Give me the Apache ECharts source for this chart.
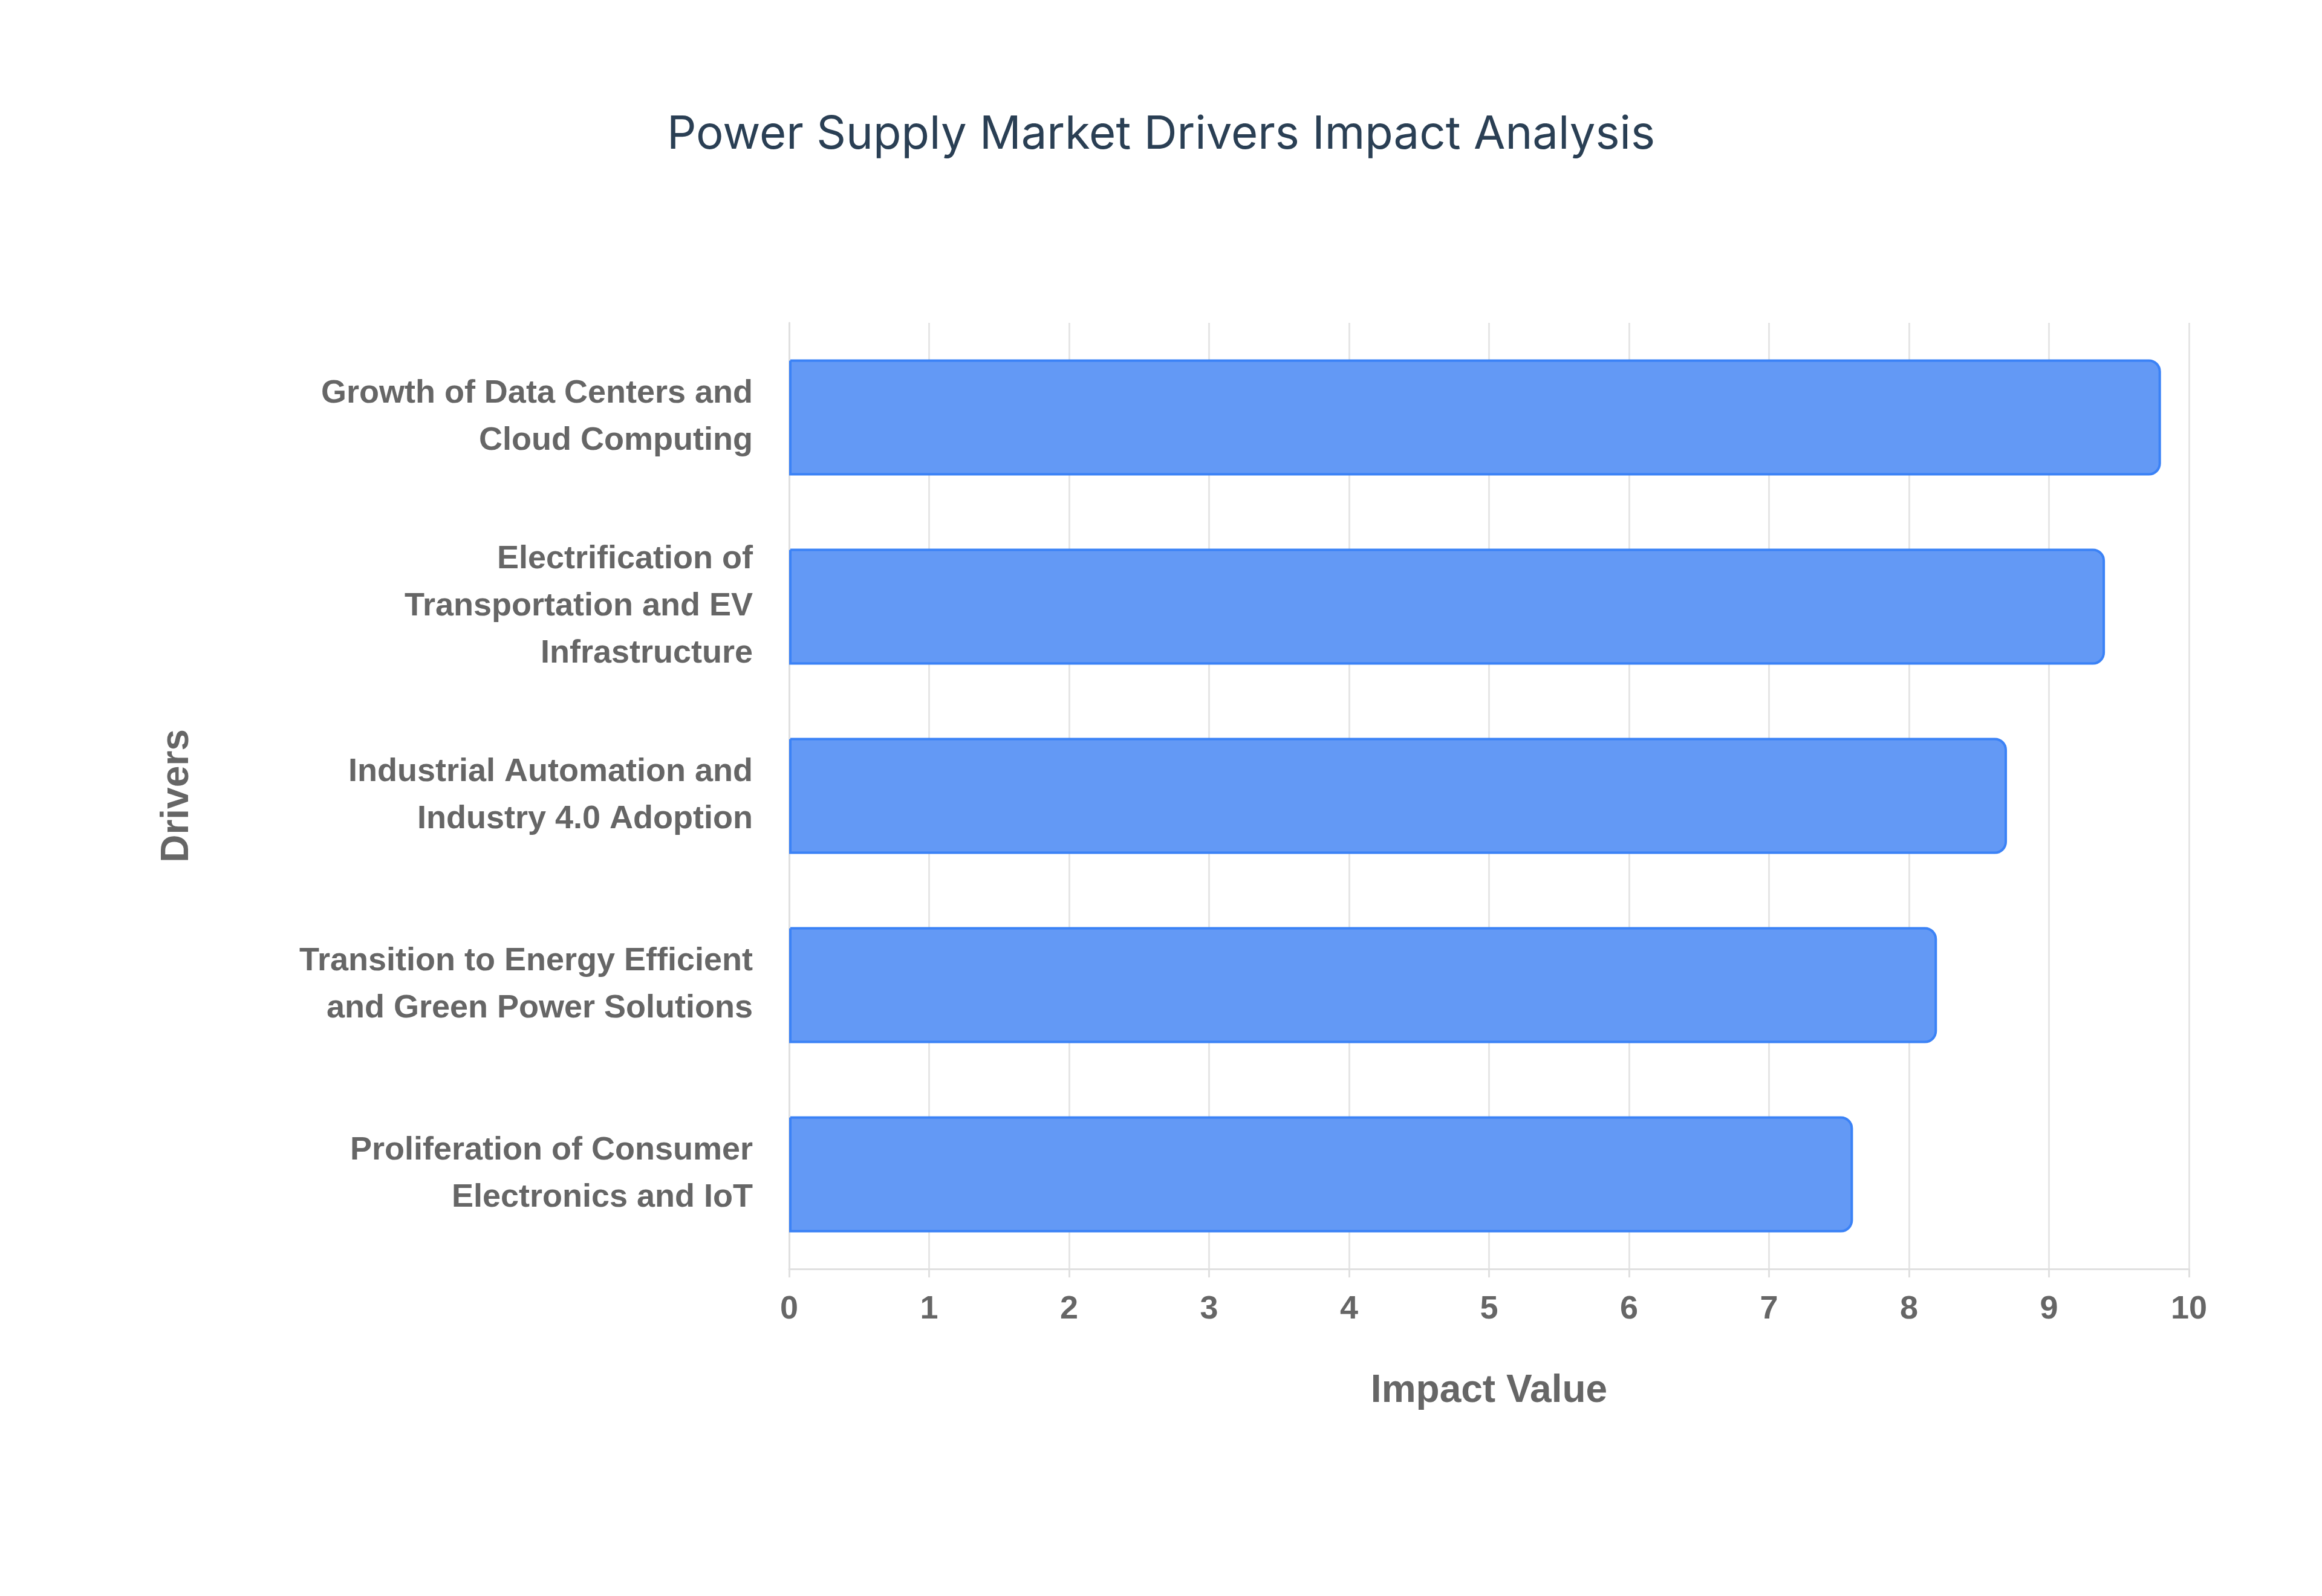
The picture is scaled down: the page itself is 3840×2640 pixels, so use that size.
<!DOCTYPE html>
<html><head><meta charset="utf-8">
<script src="https://cdn.jsdelivr.net/npm/echarts@6/dist/echarts.min.js"></script>
<style>html,body{margin:0;padding:0;background:#fff}#c{width:3840px;height:2640px}</style>
</head><body><div id="c"></div>
<script>
const categories = [
  "Growth of Data Centers and\nCloud Computing",
  "Electrification of\nTransportation and EV\nInfrastructure",
  "Industrial Automation and\nIndustry 4.0 Adoption",
  "Transition to Energy Efficient\nand Green Power Solutions",
  "Proliferation of Consumer\nElectronics and IoT"
];
const values = [9.8, 9.4, 8.7, 8.2, 7.6];
const chart = echarts.init(document.getElementById('c'));
chart.setOption({
  backgroundColor: '#fff',
  title: { text: 'Power Supply Market Drivers Impact Analysis', left: 'center', top: 180,
    textStyle: { fontFamily: 'Inter', fontWeight: 'normal', fontSize: 76, color: '#2a3f54' } },
  grid: { left: 1305, right: 220, top: 534, bottom: 541 },
  xAxis: { type: 'value', min: 0, max: 10, interval: 1,
    name: 'Impact Value', nameLocation: 'middle', nameGap: 170,
    nameTextStyle: { fontFamily: 'Liberation Sans', fontWeight: 'bold', fontSize: 64, color: '#666' },
    axisLabel: { fontFamily: 'Liberation Sans', fontWeight: 'bold', fontSize: 54, color: '#666', margin: 40 },
    axisLine: { show: true, lineStyle: { color: '#e0e0e0', width: 3 } },
    axisTick: { show: true, length: 14, lineStyle: { color: '#e0e0e0', width: 3 } },
    splitLine: { lineStyle: { color: '#e6e6e6', width: 3 } } },
  yAxis: { type: 'category', inverse: true, data: categories,
    name: 'Drivers', nameLocation: 'middle', nameGap: 980, nameRotate: 90,
    nameTextStyle: { fontFamily: 'Liberation Sans', fontWeight: 'bold', fontSize: 64, color: '#666' },
    axisLabel: { fontFamily: 'Liberation Sans', fontWeight: 'bold', fontSize: 54, color: '#666', margin: 60, lineHeight: 78, align: 'right' },
    axisLine: { show: true, lineStyle: { color: '#e0e0e0', width: 3 } },
    axisTick: { show: false } },
  series: [{ type: 'bar', data: values, barWidth: 192,
    itemStyle: { color: '#6399f5', borderColor: '#3b82f6', borderWidth: 4, borderRadius: [0, 18, 18, 0] } }]
});
</script></body></html>
